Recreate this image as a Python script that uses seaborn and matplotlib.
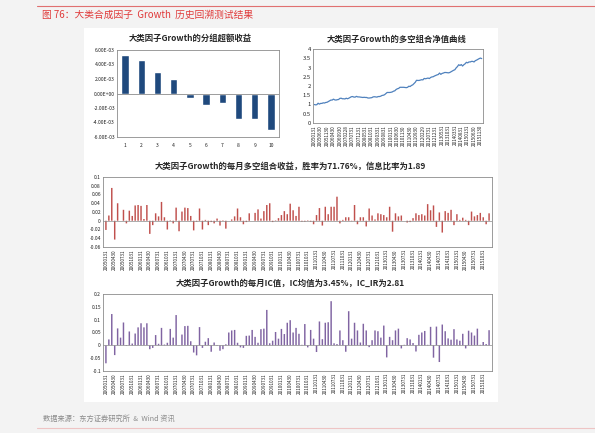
import numpy as np
import pandas as pd
import matplotlib
matplotlib.use("Agg")
import matplotlib.pyplot as plt
import seaborn as sns
from matplotlib.patches import Rectangle
from matplotlib.lines import Line2D

# group excess returns (deciles 1..10)
groups = list(range(1, 11))
group_excess = [5.3e-3, 4.65e-3, 3.0e-3, 2.05e-3, -0.6e-3,
                -1.65e-3, -1.3e-3, -3.45e-3, -3.5e-3, -5.0e-3]

# monthly long-short returns
ls_ret = [
    -0.021, 0.012, 0.075, -0.043, 0.040, 0.000, 0.025, -0.006, 0.023, 0.011,
    0.035, 0.036, 0.034, 0.004, 0.036, -0.030, -0.010, 0.017, 0.010, 0.043,
    0.008, -0.020, 0.001, -0.006, 0.030, -0.024, 0.021, 0.030, 0.029, 0.011,
    -0.022, -0.002, 0.028, -0.020, 0.002, -0.010, -0.003, -0.006, 0.005, -0.011,
    0.001, -0.018, 0.000, 0.003, 0.010, 0.028, 0.008, -0.008, -0.003, 0.017,
    0.000, 0.018, 0.026, 0.005, 0.022, 0.036, 0.040, -0.003, 0.001, 0.006,
    0.013, 0.022, 0.015, 0.039, 0.024, 0.011, 0.032, -0.002, -0.002, 0.001,
    -0.002, -0.008, 0.013, 0.029, -0.011, 0.032, 0.015, 0.032, 0.032, 0.055,
    -0.006, 0.002, 0.008, 0.008, -0.001, 0.036, -0.008, 0.008, 0.008, -0.013,
    0.028, 0.012, 0.003, 0.017, 0.015, 0.013, 0.008, 0.032, -0.025, 0.017,
    0.010, 0.012, 0.000, -0.004, -0.003, 0.006, 0.017, 0.013, 0.015, 0.012,
    0.038, 0.024, 0.035, -0.014, 0.019, -0.027, 0.022, 0.018, 0.025, -0.010,
    0.015, 0.002, 0.007, 0.002, -0.010, 0.021, 0.010, 0.013, 0.018, 0.008,
    -0.008, 0.017,
]

# monthly IC
ic = [
    -0.070, 0.023, 0.122, -0.038, 0.066, 0.030, 0.089, -0.002, 0.054, 0.007,
    0.046, 0.070, 0.086, 0.070, 0.086, -0.015, -0.010, 0.040, 0.006, 0.068,
    0.003, 0.010, 0.064, 0.030, 0.118, 0.001, 0.042, 0.075, 0.076, 0.016,
    -0.028, -0.039, 0.071, -0.010, 0.014, 0.028, -0.025, 0.011, -0.002, -0.021,
    -0.015, 0.004, 0.050, 0.058, 0.060, 0.010, -0.008, -0.010, 0.037, 0.038,
    0.060, 0.033, 0.010, 0.063, 0.065, 0.138, 0.008, 0.018, 0.052, 0.026,
    0.064, 0.044, 0.088, 0.098, 0.050, 0.068, 0.045, 0.002, 0.083, -0.008,
    0.060, 0.026, -0.026, 0.093, 0.024, 0.088, 0.090, 0.172, 0.008, 0.005,
    0.058, 0.020, -0.025, 0.133, 0.026, 0.088, 0.058, 0.011, 0.084, 0.058,
    -0.007, 0.020, 0.058, 0.055, 0.030, 0.077, -0.047, 0.033, 0.020, 0.058,
    0.065, -0.012, 0.002, 0.028, 0.023, 0.009, -0.024, 0.041, 0.050, 0.056,
    0.002, 0.072, -0.048, 0.073, -0.065, 0.081, 0.055, 0.027, 0.022, 0.063,
    0.023, 0.018, 0.045, -0.012, 0.057, 0.050, 0.038, 0.065, 0.002, 0.013,
    0.005, 0.059,
]

# long-short net value curve
net_value = [
    1.00, 0.98, 0.99, 1.07, 1.02, 1.06, 1.06, 1.09, 1.08, 1.11,
    1.12, 1.16, 1.20, 1.24, 1.24, 1.29, 1.25, 1.24, 1.26, 1.27,
    1.33, 1.34, 1.31, 1.31, 1.30, 1.34, 1.31, 1.34, 1.38, 1.42,
    1.43, 1.40, 1.40, 1.44, 1.41, 1.41, 1.40, 1.39, 1.38, 1.39,
    1.38, 1.38, 1.35, 1.35, 1.36, 1.37, 1.41, 1.42, 1.41, 1.40,
    1.43, 1.43, 1.45, 1.49, 1.50, 1.53, 1.59, 1.65, 1.65, 1.65,
    1.66, 1.68, 1.72, 1.74, 1.81, 1.85, 1.87, 1.93, 1.93, 1.93,
    1.93, 1.92, 1.91, 1.93, 1.99, 1.97, 2.03, 2.06, 2.13, 2.20,
    2.31, 2.30, 2.30, 2.32, 2.34, 2.33, 2.41, 2.39, 2.41, 2.43,
    2.40, 2.46, 2.49, 2.50, 2.54, 2.57, 2.60, 2.62, 2.70, 2.63,
    2.68, 2.70, 2.73, 2.73, 2.72, 2.71, 2.73, 2.77, 2.81, 2.85,
    2.88, 2.98, 3.05, 3.15, 3.11, 3.16, 3.08, 3.15, 3.20, 3.28,
    3.25, 3.30, 3.30, 3.33, 3.33, 3.30, 3.37, 3.40, 3.44, 3.48,
    3.51, 3.48,
]

months = pd.date_range("2005-01-31", periods=len(ls_ret), freq="ME").strftime("%Y%m%d").tolist()

sns.set_style("white")
plt.rcParams["font.family"] = ["Noto Sans CJK SC", "DejaVu Sans"]
plt.rcParams["axes.unicode_minus"] = False

W, H = 595, 433
fig = plt.figure(figsize=(W / 100, H / 100), dpi=100)
fig.patch.set_facecolor("#f3f3f3")


def box(x0, y0, x1, y1):
    # pixel box -> figure fraction [left, bottom, width, height]
    return [x0 / W, 1 - y1 / H, (x1 - x0) / W, (y1 - y0) / H]


fig.patches.append(Rectangle((84 / W, 1 - 402 / H), (498 - 84) / W, (402 - 28) / H,
                             transform=fig.transFigure, facecolor="white",
                             edgecolor="none", zorder=-1))

# header / footer
fig.lines.append(Line2D([37 / W, 1], [1 - 6 / H] * 2, transform=fig.transFigure, color="#e07070", lw=0.8))
fig.text(42 / W, 1 - 15 / H, "图 76：大类合成因子  Growth  历史回溯测试结果", color="#e03a3a",
         fontsize=7, va="center", ha="left")
fig.lines.append(Line2D([37 / W, 1], [1 - 428 / H] * 2, transform=fig.transFigure, color="#eec4c4", lw=0.8))
fig.text(43 / W, 1 - 419 / H, "数据来源：东方证券研究所  &  Wind 资讯", color="#8a8a8a",
         fontsize=5.2, va="center", ha="left")


def frame(ax):
    for s in ax.spines.values():
        s.set_visible(True)
        s.set_color("#8c8c8c")
        s.set_linewidth(0.6)
    ax.tick_params(axis="both", length=0, labelsize=3.6, colors="#222222", pad=1.5)
    ax.set_xlabel("")
    ax.set_ylabel("")


def unsnap(ax):
    # thin bars vanish when snapped to the pixel grid
    for p in ax.patches:
        p.set_snap(False)
        p.set_linewidth(0)


n = len(ls_ret)
idx = np.arange(n)

# 1. group excess returns
ax1 = fig.add_axes(box(117, 50, 279, 137))
sns.barplot(x=groups, y=group_excess, color="#1f497d", saturation=1, width=0.45,
            errorbar=None, ax=ax1)
ax1.axhline(0, color="#8c8c8c", lw=0.6)
ax1.set_ylim(-6e-3, 6e-3)
yt = np.arange(-6e-3, 6.1e-3, 2e-3)
ax1.set_yticks(yt)
ax1.set_yticklabels([f"{v:.2E}" if abs(v) > 1e-9 else "0.00E+00" for v in yt])
ax1.set_xlim(-0.5, 9.5)
frame(ax1)
ax1.tick_params(axis="x", pad=4)
fig.text(190 / W, 1 - 38 / H, "大类因子Growth的分组超额收益", fontsize=6, fontweight="bold",
         ha="center", va="center")

# 2. net value curve
ax2 = fig.add_axes(box(313, 49, 483, 123))
sns.lineplot(x=idx, y=net_value, color="#4f81bd", lw=0.9, ax=ax2)
ax2.set_ylim(0, 4)
ax2.set_yticks(np.arange(0, 4.01, 0.5))
ax2.set_yticklabels(["0", "0.5", "1", "1.5", "2", "2.5", "3", "3.5", "4"])
ax2.set_xlim(-1, n)
ax2.set_xticks(idx[::5])
ax2.set_xticklabels(months[::5], rotation=90)
frame(ax2)
ax2.tick_params(axis="y", labelsize=4.2)
ax2.tick_params(axis="x", labelsize=3.3)
fig.text(397 / W, 1 - 39 / H, "大类因子Growth的多空组合净值曲线", fontsize=6, fontweight="bold",
         ha="center", va="center")

# 3. monthly long-short returns
ax3 = fig.add_axes(box(103, 177, 492, 247))
sns.barplot(x=idx, y=ls_ret, color="#c0504d", saturation=1, width=0.5,
            errorbar=None, ax=ax3)
unsnap(ax3)
ax3.axhline(0, color="#8c8c8c", lw=0.5)
ax3.set_ylim(-0.06, 0.1)
ax3.set_yticks(np.arange(-0.06, 0.101, 0.02))
ax3.set_yticklabels(["-0.06", "-0.04", "-0.02", "0", "0.02", "0.04", "0.06", "0.08", "0.1"])
ax3.set_xlim(-1, n)
ax3.set_xticks(idx[::3])
ax3.set_xticklabels(months[::3], rotation=90)
frame(ax3)
ax3.tick_params(axis="x", labelsize=3.3)
fig.text(290 / W, 1 - 166 / H, "大类因子Growth的每月多空组合收益，胜率为71.76%，信息比率为1.89",
         fontsize=6, fontweight="bold", ha="center", va="center")

# 4. monthly IC
ax4 = fig.add_axes(box(103, 294, 492, 371))
sns.barplot(x=idx, y=ic, color="#8064a2", saturation=1, width=0.5,
            errorbar=None, ax=ax4)
unsnap(ax4)
ax4.axhline(0, color="#8c8c8c", lw=0.5)
ax4.set_ylim(-0.1, 0.2)
ax4.set_yticks(np.arange(-0.1, 0.201, 0.05))
ax4.set_yticklabels(["-0.1", "-0.05", "0", "0.05", "0.1", "0.15", "0.2"])
ax4.set_xlim(-1, n)
ax4.set_xticks(idx[::3])
ax4.set_xticklabels(months[::3], rotation=90)
frame(ax4)
ax4.tick_params(axis="x", labelsize=3.3)
fig.text(290 / W, 1 - 283 / H, "大类因子Growth的每月IC值，IC均值为3.45%，IC_IR为2.81",
         fontsize=6, fontweight="bold", ha="center", va="center")

fig.savefig("out.png", dpi=100, facecolor=fig.get_facecolor())
